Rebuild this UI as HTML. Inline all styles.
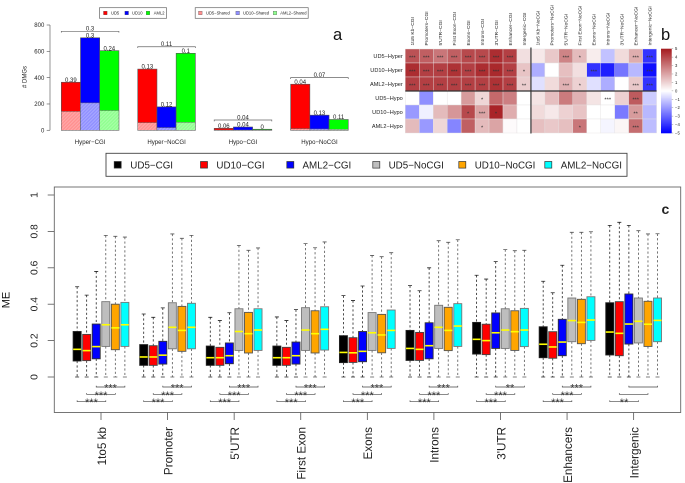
<!DOCTYPE html>
<html lang="en">
<head>
<meta charset="utf-8">
<title>DMG counts, enrichment heatmap and methylation boxplots</title>
<style>
html,body{margin:0;padding:0;background:#fff;}
svg{display:block;font-family:"Liberation Sans",sans-serif;}
</style>
</head>
<body>
<svg id="fig" xmlns="http://www.w3.org/2000/svg" width="685" height="483" viewBox="0 0 685 483">
<defs>
<pattern id="hatch" patternUnits="userSpaceOnUse" width="2.4" height="2.4" patternTransform="rotate(45)">
<rect width="1.1" height="2.4" fill="#ffffff" fill-opacity="0.22"></rect>
</pattern>
</defs>
<rect width="685" height="483" fill="#fff"></rect>

<g id="panelA"></g>
<g>
<rect x="99.5" y="7.7" width="67" height="10.6" fill="#fff" stroke="#666" stroke-width="0.7"></rect>
<rect x="103.5" y="11.2" width="3.6" height="3.6" fill="#f00" stroke="#444" stroke-width="0.3"></rect>
<text x="111" y="14.4" font-size="4.1" fill="#222">UD5</text>
<rect x="124.9" y="11.2" width="3.6" height="3.6" fill="#00f" stroke="#444" stroke-width="0.3"></rect>
<text x="132" y="14.4" font-size="4.1" fill="#222">UD10</text>
<rect x="146.2" y="11.2" width="3.6" height="3.6" fill="#0f0" stroke="#444" stroke-width="0.3"></rect>
<text x="153.8" y="14.4" font-size="4.1" fill="#222">AML2</text>
</g>
<g>
<rect x="195.2" y="7.7" width="113" height="10.6" fill="#fff" stroke="#666" stroke-width="0.7"></rect>
<rect x="198.5" y="11.2" width="3.6" height="3.6" fill="#ff8f8f" stroke="#444" stroke-width="0.3"></rect>
<text x="206" y="14.4" font-size="4.1" fill="#222">UD5−Shared</text>
<rect x="235.9" y="11.2" width="3.6" height="3.6" fill="#8f8fff" stroke="#444" stroke-width="0.3"></rect>
<text x="243" y="14.4" font-size="4.1" fill="#222">UD10−Shared</text>
<rect x="273.2" y="11.2" width="3.6" height="3.6" fill="#8fff8f" stroke="#444" stroke-width="0.3"></rect>
<text x="280.3" y="14.4" font-size="4.1" fill="#222">AML2−Shared</text>
</g>
<text transform="translate(26.5 77) rotate(-90)" text-anchor="middle" font-size="6" fill="#222"># DMGs</text>
<text x="333" y="40" font-size="16.5" fill="#111">a</text>

<g id="panelB"></g>
<text x="661" y="40" font-size="16.5" fill="#111">b</text>

<g>
<rect x="106" y="153.3" width="521" height="23" fill="#fff" stroke="#444" stroke-width="0.9"></rect>
<rect x="114.2" y="161.5" width="7" height="6.6" fill="#000" stroke="#333" stroke-width="0.7"></rect>
<text x="130.3" y="168.6" font-size="9.8" fill="#222">UD5−CGI</text>
<rect x="200.5" y="161.5" width="7" height="6.6" fill="#f00" stroke="#333" stroke-width="0.7"></rect>
<text x="216.4" y="168.6" font-size="9.8" fill="#222">UD10−CGI</text>
<rect x="286.8" y="161.5" width="7" height="6.6" fill="#00f" stroke="#333" stroke-width="0.7"></rect>
<text x="302.5" y="168.6" font-size="9.8" fill="#222">AML2−CGI</text>
<rect x="372.8" y="161.5" width="7" height="6.6" fill="#bebebe" stroke="#333" stroke-width="0.7"></rect>
<text x="388.6" y="168.6" font-size="9.8" fill="#222">UD5−NoCGI</text>
<rect x="458.8" y="161.5" width="7" height="6.6" fill="#ffa500" stroke="#333" stroke-width="0.7"></rect>
<text x="474.7" y="168.6" font-size="9.8" fill="#222">UD10−NoCGI</text>
<rect x="544.8" y="161.5" width="7" height="6.6" fill="#0ff" stroke="#333" stroke-width="0.7"></rect>
<text x="560.7" y="168.6" font-size="9.8" fill="#222">AML2−NoCGI</text>
</g>
<rect x="54.3" y="187" width="626.4" height="225.5" fill="none" stroke="#666" stroke-width="0.9"></rect>
<text transform="translate(9.5 300) rotate(-90)" text-anchor="middle" font-size="11" fill="#111">ME</text>
<text x="661.5" y="214" font-size="14" font-weight="bold" fill="#222">c</text>
<g id="panelC"></g>
</svg>

<script>
/* ---------- panel a data ---------- */
const barGroups = ["Hyper−CGI", "Hyper−NoCGI", "Hypo−CGI", "Hypo−NoCGI"];
const barTicks = [0, 200, 400, 600, 800];
const barTotals = [[365, 703, 605], [465, 178, 585], [15, 25, 8], [350, 115, 82]];
const barShared = [[143, 208, 150], [58, 20, 60], [2, 2, 2], [12, 10, 8]];
const barRatios = [["0.39", "0.3", "0.24"], ["0.13", "0.12", "0.1"], ["0.06", "0.04", "0"], ["0.04", "0.13", "0.11"]];
const bracketLevels = [752, 635, 78, 400];
const bracketRatios = ["0.3", "0.11", "0.04", "0.07"];

/* ---------- panel b data ---------- */
const heatCols = ["1to5 Kb−CGI", "Promoters−CGI", "5'UTR−CGI", "First Exon−CGI", "Exons−CGI", "Introns−CGI", "3'UTR−CGI", "Enhancer−CGI", "Intergenic−CGI", "1to5 Kb−NoCGI", "Promoters−NoCGI", "5'UTR−NoCGI", "First Exon−NoCGI", "Exons−NoCGI", "Introns−NoCGI", "3'UTR−NoCGI", "Enhancer−NoCGI", "Intergenic−NoCGI"];
const heatRows = ["UD5−Hyper", "UD10−Hyper", "AML2−Hyper", "UD5−Hypo", "UD10−Hypo", "AML2−Hypo"];
const heatValues = [
  [3.8, 3.5, 3.0, 3.5, 4.0, 4.0, 4.6, 4.2, 0.7, 0.5, 1.2, 2.7, 1.5, 0.4, -1.2, 0.8, 1.8, -4.0],
  [4.6, 4.2, 4.2, 4.5, 4.2, 4.6, 4.7, 4.2, 1.3, -1.6, 0, 1.4, 0.7, -4.0, -4.4, -2.7, -1.4, -4.7],
  [4.2, 4.2, 4.2, 4.2, 4.2, 4.2, 4.5, 4.2, 1.1, -0.6, 0.8, 1.7, 1.0, -0.6, -1.6, 0, 1.2, -4.0],
  [0, -2.2, 0, 0, 2.2, 0.9, 3.3, 2.8, 0, 0.6, 1.4, 2.9, 1.7, 0.6, 0, 1.0, 3.6, -1.0],
  [-2.0, -0.3, 1.5, 2.3, 4.0, 2.0, 4.8, 1.8, 0, 0.8, 0.5, 1.0, 1.3, 0, 0, -2.6, 2.2, -1.4],
  [1.5, -2.0, 0.9, -2.4, 3.5, 1.5, 2.0, 0.1, 0, 1.4, 1.2, 1.4, 3.0, 0, -0.2, 0.2, 3.2, -1.3]
];
const heatStars = [
  ["***", "***", "***", "***", "***", "***", "***", "***", "", "", "", "***", "*", "", "", "", "***", "***"],
  ["***", "***", "***", "***", "***", "***", "***", "***", "*", "", "", "", "", "***", "", "", "", "***"],
  ["***", "***", "***", "***", "***", "***", "***", "***", "**", "", "", "***", "*", "", "", "", "***", "***"],
  ["", "", "", "", "", "*", "", "", "", "", "", "", "", "", "***", "", "***", ""],
  ["", "", "", "", "*", "***", "*", "", "", "", "", "", "", "", "", "", "**", ""],
  ["", "", "", "", "", "*", "", "", "", "", "", "", "*", "", "", "", "***", ""]
];
const scaleTicks = [5, 4, 3, 2, 1, 0, -1, -2, -3, -4, -5];

/* ---------- panel c data ---------- */
const regions = ["1to5 kb", "Promoter", "5'UTR", "First Exon", "Exons", "Introns", "3'UTR", "Enhancers", "Intergenic"];
const seriesNames = ["UD5-CGI", "UD10-CGI", "AML2-CGI", "UD5-NoCGI", "UD10-NoCGI", "AML2-NoCGI"];
const meTicks = [0, 0.2, 0.4, 0.6, 0.8, 1];
const meTickLabels = ["0", "0.2", "0.4", "0.6", "0.8", "1"];
const whiskerHigh = [
  [0.496, 0.45, 0.58, 0.778, 0.773, 0.769],
  [0.346, 0.328, 0.38, 0.786, 0.762, 0.778],
  [0.328, 0.31, 0.353, 0.723, 0.696, 0.709],
  [0.33, 0.31, 0.37, 0.733, 0.71, 0.742],
  [0.447, 0.42, 0.5, 0.668, 0.661, 0.683],
  [0.502, 0.474, 0.6, 0.749, 0.74, 0.754],
  [0.559, 0.538, 0.634, 0.7, 0.694, 0.696],
  [0.526, 0.463, 0.614, 0.795, 0.795, 0.798],
  [0.833, 0.85, 0.833, 0.804, 0.786, 0.787]
];
const quartile3 = [
  [0.25, 0.234, 0.291, 0.414, 0.4, 0.41],
  [0.178, 0.172, 0.196, 0.408, 0.388, 0.405],
  [0.17, 0.163, 0.187, 0.375, 0.355, 0.375],
  [0.17, 0.163, 0.192, 0.381, 0.364, 0.386],
  [0.227, 0.216, 0.25, 0.354, 0.344, 0.368],
  [0.256, 0.245, 0.298, 0.394, 0.383, 0.403],
  [0.3, 0.29, 0.352, 0.375, 0.364, 0.377],
  [0.276, 0.249, 0.317, 0.434, 0.427, 0.441],
  [0.408, 0.414, 0.456, 0.434, 0.416, 0.434]
];
const medians = [
  [0.152, 0.145, 0.167, 0.287, 0.27, 0.287],
  [0.11, 0.11, 0.12, 0.273, 0.256, 0.273],
  [0.106, 0.106, 0.117, 0.25, 0.238, 0.258],
  [0.106, 0.106, 0.117, 0.258, 0.238, 0.262],
  [0.135, 0.133, 0.141, 0.243, 0.231, 0.256],
  [0.157, 0.152, 0.172, 0.273, 0.256, 0.28],
  [0.207, 0.2, 0.243, 0.258, 0.249, 0.258],
  [0.18, 0.165, 0.192, 0.31, 0.3, 0.313],
  [0.247, 0.24, 0.291, 0.306, 0.29, 0.311]
];
const quartile1 = [
  [0.088, 0.09, 0.1, 0.168, 0.15, 0.168],
  [0.064, 0.064, 0.071, 0.155, 0.141, 0.155],
  [0.064, 0.064, 0.073, 0.146, 0.132, 0.146],
  [0.064, 0.064, 0.071, 0.146, 0.132, 0.148],
  [0.079, 0.08, 0.084, 0.146, 0.133, 0.157],
  [0.091, 0.091, 0.1, 0.157, 0.145, 0.168],
  [0.126, 0.123, 0.157, 0.157, 0.146, 0.167],
  [0.106, 0.103, 0.117, 0.194, 0.183, 0.201],
  [0.121, 0.117, 0.181, 0.187, 0.168, 0.194]
];
const whiskerLow = [
  [0, 0, 0, 0, 0, 0], [0, 0, 0, 0, 0, 0], [0, 0, 0, 0, 0, 0],
  [0, 0, 0, 0, 0, 0], [0, 0, 0, 0, 0, 0], [0, 0, 0, 0, 0, 0],
  [0, 0, 0, 0, 0, 0], [0, 0, 0, 0, 0, 0], [0, 0, 0, 0, 0, 0]
];
const compareStars = [
  ["***", "***", "***"], ["***", "***", "***"], ["***", "***", "***"],
  ["***", "***", "***"], ["***", "***", "***"], ["***", "***", "***"],
  ["***", "***", "**"], ["***", "***", "***"], ["**", "", ""]
];
const compareLevels = [-0.135, -0.095, -0.055];

/* ---------- helpers ---------- */
const NS = "http://www.w3.org/2000/svg";
function mk(parent, tag, attrs, txt) {
  const el = document.createElementNS(NS, tag);
  for (const k in attrs) el.setAttribute(k, attrs[k]);
  if (txt !== undefined) el.textContent = txt;
  parent.appendChild(el);
  return el;
}
const fmt = v => +v.toFixed(2);

/* ---------- panel a ---------- */
const panelA = document.getElementById("panelA");
const yA = v => 130.3 - v * 105.3 / 800;
const groupX = g => 61.3 + g * 76.45;
const barW = 19.2;
const solidColors = ["#ff0000", "#0000ff", "#00ff00"];
const sharedColors = ["#ff8f8f", "#8f8fff", "#8fff8f"];
const seriesA = ["ud5", "ud10", "aml2"];

const axisA = mk(panelA, "line", {x1: 50, x2: 50, y1: yA(800), y2: yA(0), stroke: "#666", "stroke-width": 0.7});


barTicks.forEach(t => {
  const tk = mk(panelA, "line", {x1: 46.7, x2: 50, y1: yA(t), y2: yA(t), stroke: "#666", "stroke-width": 0.7});
  
  
  const lb = mk(panelA, "text", {x: 44.3, y: yA(t) + 2.1, "text-anchor": "end", "font-size": 6, fill: "#222"}, String(t));
  
  
});
barGroups.forEach((name, g) => {
  const x0 = groupX(g);
  barTotals[g].forEach((v, s) => {
    const x = x0 + s * barW;
    const bar = mk(panelA, "rect", {x: x, y: yA(v), width: barW, height: yA(0) - yA(v), fill: solidColors[s], stroke: "#555", "stroke-width": 0.6});
    
    
    const sh = barShared[g][s];
    const part = mk(panelA, "rect", {x: x, y: yA(sh), width: barW, height: yA(0) - yA(sh), fill: sharedColors[s], stroke: "#666", "stroke-width": 0.5});
    
    
    const hatch = mk(panelA, "rect", {x: x, y: yA(sh), width: barW, height: yA(0) - yA(sh), fill: "url(#hatch)"});
    
    
    const lab = mk(panelA, "text", {x: x + barW / 2, y: yA(v) - 0.4, "text-anchor": "middle", "font-size": 6, fill: "#222"}, barRatios[g][s]);
    
    
  });
  const by = yA(bracketLevels[g]);
  const xr = x0 + 3 * barW;
  const br = mk(panelA, "path", {d: "M" + x0 + " " + (by + 1.3) + "V" + by + "H" + xr + "V" + (by + 1.3), fill: "none", stroke: "#666", "stroke-width": 0.7});
  
  
  const bl = mk(panelA, "text", {x: x0 + 1.5 * barW, y: by - 0.7, "text-anchor": "middle", "font-size": 6, fill: "#222"}, bracketRatios[g]);
  
  
  const gl = mk(panelA, "text", {x: x0 + 1.5 * barW, y: 143.8, "text-anchor": "middle", "font-size": 6.1, fill: "#222"}, name);
  
  
});

/* ---------- panel b ---------- */
const panelB = document.getElementById("panelB");
const cellW = 13.96, cellH = 14, heatX = 405.3, heatY = 49;
const colX = c => heatX + c * cellW;
const rowY = r => heatY + r * cellH;
function heatColor(v) {
  const t = Math.min(1, Math.abs(v) / 5);
  const end = v >= 0 ? [165, 27, 31] : [0, 0, 255];
  return "rgb(" + end.map(e => Math.round(255 + (e - 255) * t)).join(",") + ")";
}
heatRows.forEach((rn, r) => {
  const rl = mk(panelB, "text", {x: 402.8, y: rowY(r) + cellH / 2 + 2, "text-anchor": "end", "font-size": 5.6, fill: "#222"}, rn);
  
  
  heatCols.forEach((cn, c) => {
    const cell = mk(panelB, "rect", {x: colX(c), y: rowY(r), width: cellW, height: cellH, fill: heatColor(heatValues[r][c]), stroke: "#e4e0e0", "stroke-width": 0.4});
    
    
    if (heatStars[r][c]) {
      const st = mk(panelB, "text", {x: colX(c) + cellW / 2, y: rowY(r) + cellH / 2 + 3.3, "text-anchor": "middle", "font-size": 5.7, fill: "#333"}, heatStars[r][c]);
      
      
    }
  });
});
heatCols.forEach((cn, c) => {
  const x = colX(c) + cellW / 2 + 1.8;
  const cl = mk(panelB, "text", {transform: "translate(" + x + " 45.5) rotate(-90)", "font-size": 4.9, fill: "#222"}, cn);
  
  
});
const sepV = mk(panelB, "line", {x1: colX(9), x2: colX(9), y1: 47.5, y2: 133.5, stroke: "#444", "stroke-width": 1.3});


const sepH = mk(panelB, "line", {x1: heatX, x2: colX(18), y1: rowY(3), y2: rowY(3), stroke: "#333", "stroke-width": 1.3});



const yScale = v => 90.85 - v * 8.43;
const barSteps = 84;
for (let i = 0; i < barSteps; i++) {
  const v = 5 - (i + 0.5) * 10 / barSteps;
  const seg = mk(panelB, "rect", {x: 661, y: yScale(5) + i * (yScale(-5) - yScale(5)) / barSteps, width: 10.7, height: (yScale(-5) - yScale(5)) / barSteps + 0.3, fill: heatColor(v)});
  
  
}
scaleTicks.forEach(t => {
  const tk = mk(panelB, "line", {x1: 671.7, x2: 673.2, y1: yScale(t), y2: yScale(t), stroke: "#777", "stroke-width": 0.4});
  
  
  const lb = mk(panelB, "text", {x: 675, y: yScale(t) + 1.5, "font-size": 4.2, fill: "#222"}, String(t).replace("-", "−"));
  
  
});

/* ---------- panel c ---------- */
const panelC = document.getElementById("panelC");
const yC = v => 377 - v * 182;
const regionX = i => 101 + i * 66.58;
const boxStep = 9.55, boxW = 8;
const boxX = (i, s) => regionX(i) + (s - 2.5) * boxStep;
const boxFill = ["#000000", "#ff0000", "#0000ff", "#bebebe", "#ffa500", "#00ffff"];
const boxEdge = ["#222", "#444", "#333", "#777", "#555", "#777"];

meTicks.forEach((t, k) => {
  const tk = mk(panelC, "line", {x1: 47.7, x2: 54.3, y1: yC(t), y2: yC(t), stroke: "#555", "stroke-width": 0.8});
  
  
  const lb = mk(panelC, "text", {transform: "translate(37.6 " + yC(t) + ") rotate(-90)", "text-anchor": "middle", "font-size": 10.3, fill: "#222"}, meTickLabels[k]);
  
  
});

regions.forEach((name, i) => {
  const tick = mk(panelC, "line", {x1: regionX(i), x2: regionX(i), y1: 412.5, y2: 420, stroke: "#555", "stroke-width": 0.8});
  
  
  const lb = mk(panelC, "text", {transform: "translate(" + (regionX(i) + 4.8) + " 427) rotate(-90)", "text-anchor": "end", "font-size": 11.7, fill: "#222"}, name);
  
  

  seriesNames.forEach((sn, s) => {
    const x = boxX(i, s);
    const whisker = mk(panelC, "path", {d: "M" + fmt(x) + " " + fmt(yC(whiskerHigh[i][s])) + "V" + fmt(yC(quartile3[i][s])) + "M" + fmt(x) + " " + fmt(yC(quartile1[i][s])) + "V" + fmt(yC(whiskerLow[i][s])), fill: "none", stroke: s < 3 ? "#222" : "#555", "stroke-width": 0.8, "stroke-dasharray": "2.2 2.2"});
    
    
    const caps = mk(panelC, "path", {d: "M" + fmt(x - 2) + " " + fmt(yC(whiskerHigh[i][s])) + "h4M" + fmt(x - 2) + " " + fmt(yC(whiskerLow[i][s])) + "h4", fill: "none", stroke: s < 3 ? "#222" : "#555", "stroke-width": 0.8});
    
    
    const box = mk(panelC, "rect", {x: fmt(x - boxW / 2), y: fmt(yC(quartile3[i][s])), width: boxW, height: fmt(yC(quartile1[i][s]) - yC(quartile3[i][s])), fill: boxFill[s], stroke: boxEdge[s], "stroke-width": 0.9});
    
    
    const med = mk(panelC, "line", {x1: fmt(x - boxW / 2), x2: fmt(x + boxW / 2), y1: fmt(yC(medians[i][s])), y2: fmt(yC(medians[i][s])), stroke: "#ffff00", "stroke-width": 1.6});
    
    
  });

  compareLevels.forEach((lvl, k) => {
    const xa = boxX(i, k), xb = boxX(i, k + 3), by = yC(lvl);
    const sb = mk(panelC, "path", {d: "M" + fmt(xa) + " " + fmt(by - 1.2) + "V" + fmt(by) + "H" + fmt(xb) + "V" + fmt(by - 1.2), fill: "none", stroke: "#444", "stroke-width": 0.7});
    
    
    if (compareStars[i][k]) {
      const st = mk(panelC, "text", {x: fmt((xa + xb) / 2), y: fmt(by + 4.6), "text-anchor": "middle", "font-size": 11, fill: "#333"}, compareStars[i][k]);
      
      
    }
  });
});
</script>
</body>
</html>
